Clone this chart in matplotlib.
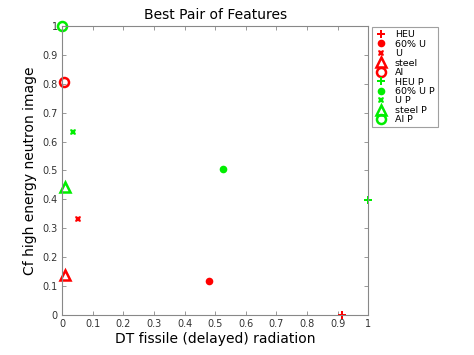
import numpy as np
import matplotlib.pyplot as plt

labels = ["HEU", "60% U", "U", "steel", "Al", "HEU P", "60% U P", "U P", "steel P", "Al P"]
x_vals = [0.915, 0.48, 0.053, 0.01, 0.005, 1.0, 0.527, 0.034, 0.01, 0.0]
y_vals = [0.0, 0.117, 0.332, 0.138, 0.805, 0.397, 0.505, 0.632, 0.444, 1.0]
markers = ["P", "o", "X", "^", "o", "P", "o", "X", "^", "o"]
colors = ["#ff0000"] * 5 + ["#00ee00"] * 5
filled = [True, True, True, False, False, True, True, True, False, False]
sizes = [6, 5.5, 5, 7, 6.5, 6, 5.5, 5, 7, 6.5]

fig = plt.figure(figsize=(4.74, 3.55), dpi=100)
ax = fig.add_axes([0.131, 0.113, 0.646, 0.814])

for i in range(len(labels)):
    if filled[i]:
        ax.plot(x_vals[i], y_vals[i], linestyle="none", marker=markers[i], color=colors[i],
                markersize=sizes[i], markeredgewidth=0, label=labels[i], clip_on=False)
    else:
        ax.plot(x_vals[i], y_vals[i], linestyle="none", marker=markers[i], color=colors[i],
                markerfacecolor="none", markersize=sizes[i], markeredgewidth=1.8,
                label=labels[i], clip_on=False)

ax.set_xlim(0, 1)
ax.set_ylim(0, 1)
ticks = np.round(np.arange(0, 1.01, 0.1), 1)
ticklabels = ["0"] + ["%.1f" % t for t in ticks[1:-1]] + ["1"]
ax.set_xticks(ticks)
ax.set_xticklabels(ticklabels)
ax.set_yticks(ticks)
ax.set_yticklabels(ticklabels)
ax.tick_params(direction="in", length=3, width=0.6, labelsize=7, colors="#888888",
               labelcolor="#333333", top=True, right=True, pad=3)
for s in ax.spines.values():
    s.set_color("#888888")
    s.set_linewidth(0.8)

ax.set_title("Best Pair of Features", fontsize=10, pad=5)
ax.set_xlabel("DT fissile (delayed) radiation", fontsize=10, labelpad=2)
ax.set_ylabel("Cf high energy neutron image", fontsize=10, labelpad=4)

leg = ax.legend(loc="upper left", bbox_to_anchor=(1.013, 0.995), fontsize=6.8,
                fancybox=False, edgecolor="#888888", borderpad=0.3, labelspacing=0.05,
                handlelength=1.2, handletextpad=0.9, borderaxespad=0)
leg.get_frame().set_linewidth(0.8)

fig.savefig("out.png", dpi=100)
